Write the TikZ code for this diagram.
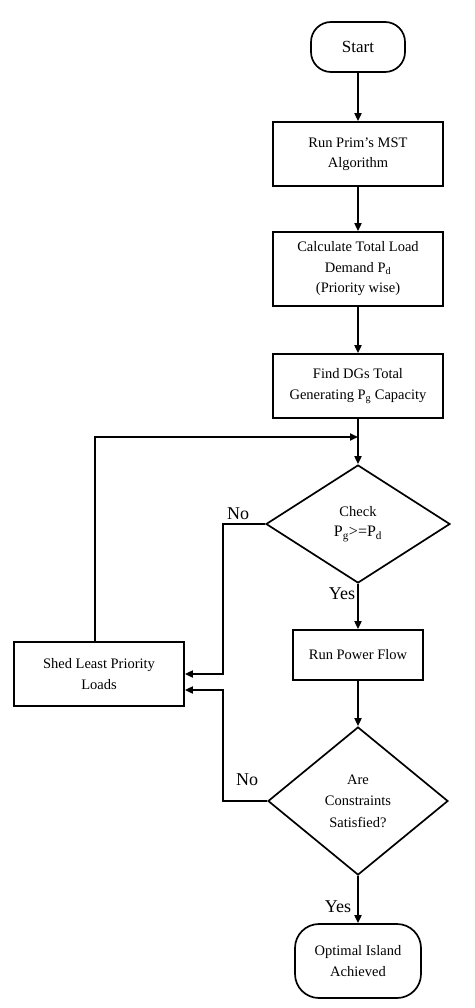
\documentclass[tikz,border=0pt]{standalone}
\usepackage{fontspec}
\setmainfont{Liberation Serif}
\usetikzlibrary{shapes.geometric,arrows.meta}
\tikzset{
  base/.style={draw, line width=1.7pt, align=center, inner sep=0pt, font=\fontsize{14.5}{20.5}\selectfont},
  procbox/.style={base, rectangle},
  termbox/.style={base, rectangle, rounded corners=20pt},
  decbox/.style={base, diamond},
  conn/.style={line width=1.7pt, -{Triangle[length=8pt,width=7pt]}},
  lbl/.style={font=\fontsize{18}{20}\selectfont, inner sep=0pt}
}
\begin{document}
\begin{tikzpicture}[x=1pt,y=-1pt]
\useasboundingbox (0,0) rectangle (474,1008);
\node[termbox, minimum width=94pt, minimum height=50pt, font=\fontsize{17}{20}\selectfont] (start) at (358,47) {Start};
\node[procbox, minimum width=170pt, minimum height=64pt] (prim) at (358,154) {Run Prim's MST\\Algorithm};
\node[procbox, minimum width=170pt, minimum height=74pt] (calc) at (358,269) {Calculate Total Load\\Demand P\textsubscript{d}\\(Priority wise)};
\node[procbox, minimum width=170pt, minimum height=64pt] (find) at (358,386) {Find DGs Total\\Generating P\textsubscript{g} Capacity};
\coordinate (join) at (358,437);
\node[decbox, minimum width=184pt, minimum height=118pt] (chk) at (358,524) {Check\\{\fontsize{16}{20}\selectfont P\textsubscript{g}>=P\textsubscript{d}}};
\node[procbox, minimum width=130pt, minimum height=50pt] (pf) at (358,655) {Run Power Flow};
\node[procbox, minimum width=170pt, minimum height=64pt] (shed) at (99,674) {Shed Least Priority\\Loads};
\node[decbox, minimum width=180pt, minimum height=148pt, font=\fontsize{14.5}{21.5}\selectfont] (cons) at (358,801) {Are\\Constraints\\Satisfied?};
\node[termbox, rounded corners=24pt, minimum width=126pt, minimum height=74pt] (end) at (358,961) {Optimal Island\\Achieved};

\draw[conn] (start) -- (prim);
\draw[conn] (prim) -- (calc);
\draw[conn] (calc) -- (find);
\draw[conn] (find) -- (chk);
\draw[conn] ([xshift=-4pt]shed.north) |- (join);
\draw[conn] (chk.west) -- ++(-42,0) |- (shed.east);
\draw[conn] (chk) -- (pf);
\draw[conn] (pf) -- (cons);
\draw[conn] (cons.west) -- ++(-44,0) |- ([yshift=-16pt]shed.east);
\draw[conn] (cons) -- (end);

\node[lbl] (no1) at (238,514) {No};
\node[lbl] (yes1) at (342,594) {Yes};
\node[lbl] (no2) at (247,780) {No};
\node[lbl] (yes2) at (338,907) {Yes};
\end{tikzpicture}
\end{document}
